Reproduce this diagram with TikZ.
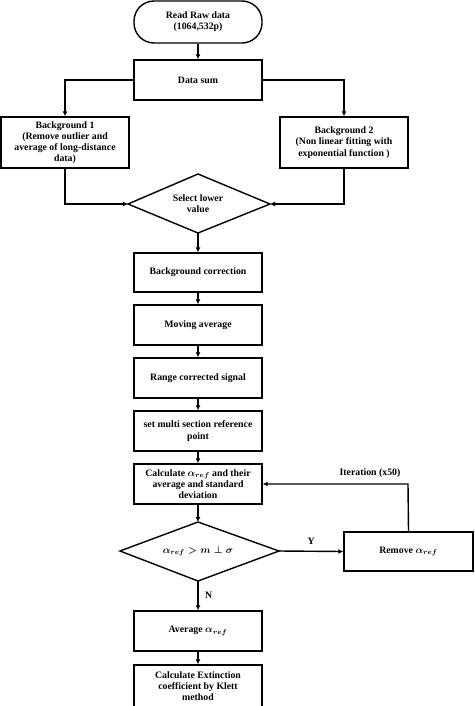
\documentclass[tikz,border=0pt]{standalone}
\usepackage{fontspec}
\setmainfont{Liberation Serif}
\usetikzlibrary{shapes.geometric,arrows.meta}
\begin{document}
\begin{tikzpicture}[x=1pt,y=-1pt,
  txt/.style={font=\fontsize{9.8}{11.2}\selectfont\bfseries\boldmath,align=center},
  box/.style={txt,draw,line width=1.4pt,minimum width=128pt,minimum height=40pt,inner sep=1pt},
  term/.style={box,rounded corners=20pt,minimum height=42pt},
  conn/.style={line width=1.4pt,-{Latex[length=5pt,width=5pt]}},
  lbl/.style={font=\fontsize{9.8}{11.2}\selectfont\bfseries}]
\useasboundingbox (0,0) rectangle (474,706);
\node[term] (read) at (198,22) {Read Raw data\\(1064,532p)};
\node[box] (sum) at (198,80) {Data sum};
\node[box,minimum height=51pt] (bg1) at (65,142.5) {Background 1\\(Remove outlier and\\average of long-distance\\data)};
\node[box,minimum height=51pt] (bg2) at (344,142.5) {Background 2\\(Non linear fitting with\\exponential function )};
\coordinate (selL) at (128,204);
\coordinate (selR) at (270,204);
\coordinate (selT) at (198,174);
\coordinate (selB) at (198,233);
\draw[line width=1.4pt] (selL) -- (selT) -- (selR) -- (selB) -- cycle;
\node[txt] (seltxt) at (198,204) {Select lower\\value};
\node[box,minimum height=39pt] (bgc) at (198,272.5) {Background correction};
\node[box] (mov) at (198,325) {Moving average};
\node[box] (rcs) at (198,378) {Range corrected signal};
\node[box] (smp) at (198,431) {set multi section reference\\point};
\node[box] (calc) at (198,484) {Calculate $\alpha_{ref}$ and their\\average and standard\\deviation};
\coordinate (cL) at (120,551);
\coordinate (cR) at (279,551);
\coordinate (cT) at (198,522);
\coordinate (cB) at (198,581);
\draw[line width=1.4pt] (cL) -- (cT) -- (cR) -- (cB) -- cycle;
\node[txt] (ctxt) at (198,551) {$\alpha_{ref} > m \perp \sigma$};
\node[box,minimum width=129pt,minimum height=39pt] (rem) at (408.5,551.5) {Remove $\alpha_{ref}$};
\node[box] (avg) at (198,631) {Average $\alpha_{ref}$};
\node[box,minimum height=42pt] (kl) at (198,686) {Calculate Extinction\\coefficient by Klett\\method};
\draw[conn] (read) -- (sum);
\draw[conn] (sum.west) -| (bg1.north);
\draw[conn] (sum.east) -| (bg2.north);
\draw[conn] (bg1.south) |- (selL);
\draw[conn] (bg2.south) |- (selR);
\draw[conn] (selB) -- (bgc);
\draw[conn] (bgc) -- (mov);
\draw[conn] (mov) -- (rcs);
\draw[conn] (rcs) -- (smp);
\draw[conn] (smp) -- (calc);
\draw[conn] (calc) -- (cT);
\draw[conn] (cR) -- node[lbl,above=3pt] (ylab) {Y} (rem.west);
\draw[conn] (cB) -- node[lbl,right=3pt] (nlab) {N} (avg);
\coordinate (it) at (408,484);
\draw[conn] (rem.north) -- (it) -- (calc.east);
\node[lbl] (itlab) at (370,473) {Iteration (x50)};
\draw[conn] (avg) -- (kl);
\end{tikzpicture}
\end{document}
